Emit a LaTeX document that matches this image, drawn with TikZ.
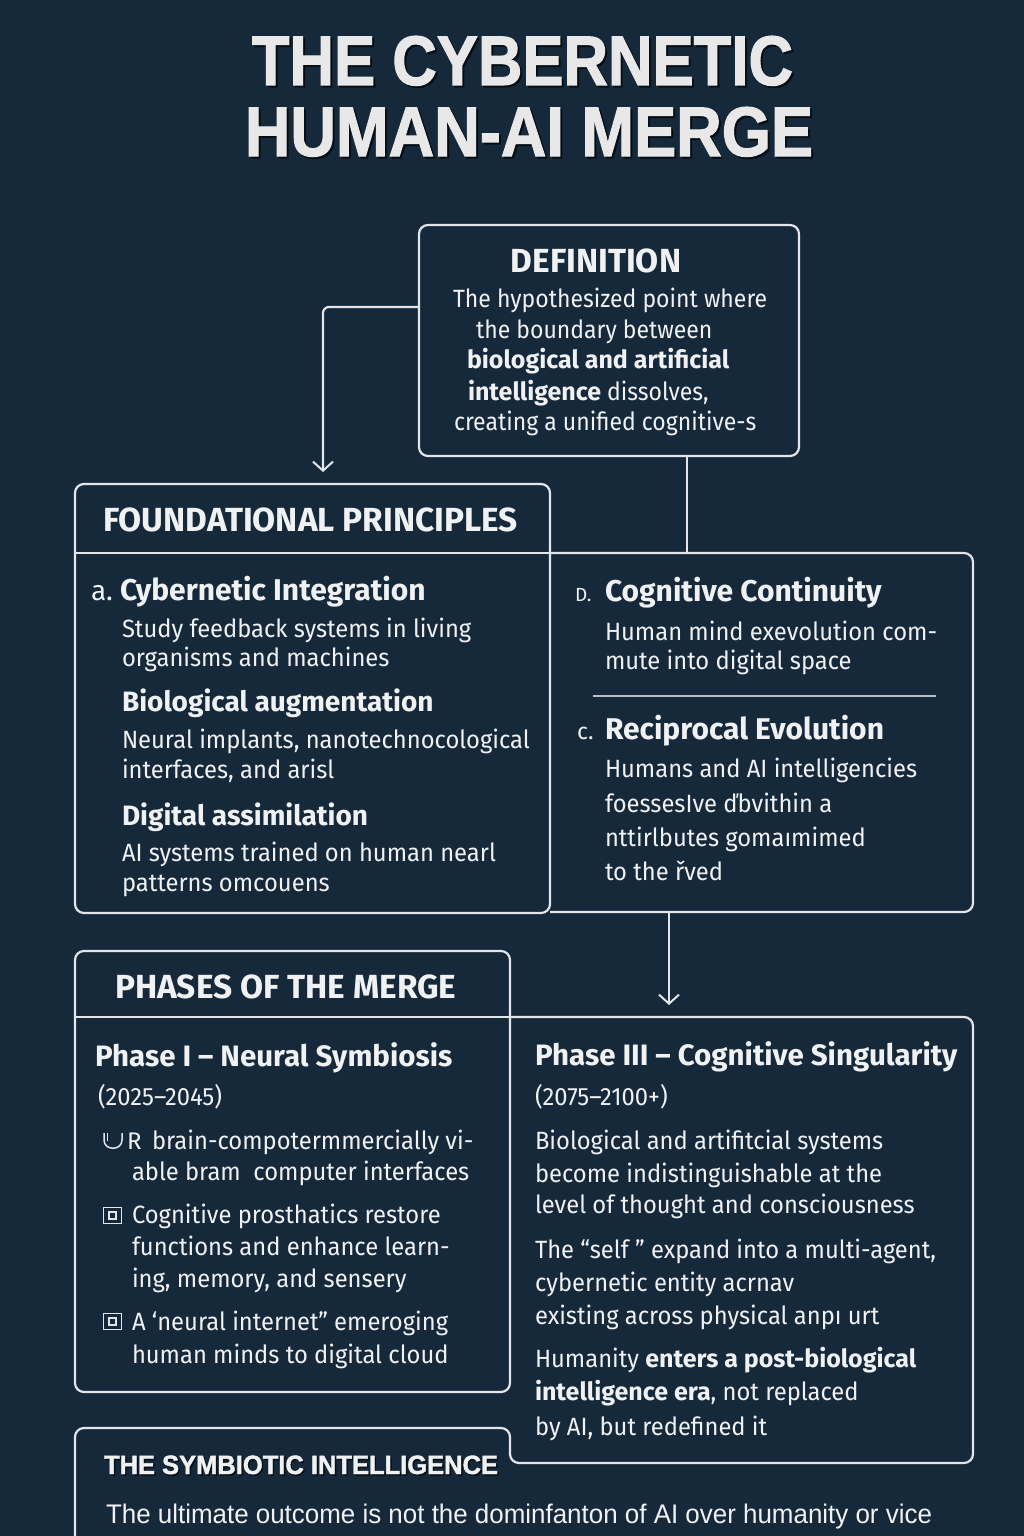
\documentclass[tikz,border=0pt]{standalone}
\usepackage{graphicx}
\usepackage{fontspec}
\setmainfont{Fira Sans}
\newfontfamily\plainfira{Fira Sans}
\newfontfamily\bodyfont[FakeStretch=0.95]{Fira Sans}
\newfontfamily\deffont[FakeStretch=0.92]{Fira Sans}
\newfontfamily\condfont{Liberation Sans}
\newfontfamily\heavyfont[FakeBold=1.6]{Liberation Sans}
\newcommand{\bd}[1]{{\plainfira\bfseries #1}}
\usetikzlibrary{arrows.meta,calc}
\definecolor{bg}{RGB}{22,41,59}
\definecolor{fg}{RGB}{240,241,242}
\definecolor{ln}{RGB}{226,230,234}
\definecolor{ttl}{RGB}{232,232,232}
\begin{document}
\begin{tikzpicture}[x=1pt,y=-1pt,
  boxline/.style={draw=ln, line width=2.2pt, rounded corners=9pt},
  plainline/.style={draw=ln, line width=2.2pt},
  link/.style={draw=ln, line width=2.2pt, rounded corners=6pt},
  arr/.style={-{Straight Barb[length=9pt,width=20pt,line width=2pt]}},
  zone/.style={draw=none, inner sep=0, outer sep=0},
  txt/.style={anchor=base west, inner sep=0, outer sep=0, text=fg, font=\bodyfont\fontsize{25}{30}\selectfont},
  deftxt/.style={txt, font=\deffont\fontsize{25}{30}\selectfont},
  sub/.style={txt, font=\plainfira\fontsize{28}{32}\selectfont\bfseries},
  bigsub/.style={txt, font=\plainfira\fontsize{30}{34}\selectfont\bfseries},
  phs/.style={txt, font=\plainfira\fontsize{29.5}{34}\selectfont\bfseries},
  hdr/.style={txt, font=\plainfira\fontsize{33.4}{38}\selectfont\bfseries},
  ttlnode/.style={anchor=base, inner sep=0, outer sep=0, text=ttl},
  icon/.style={draw=ln, line width=1.5pt, inner sep=0, outer sep=0},
]
\useasboundingbox (0,0) rectangle (1024,1536);
\fill[bg] (0,0) rectangle (1024,1536);
\clip (0,0) rectangle (1024,1536);

% ---------- title ----------
\node[ttlnode, text=black, opacity=0.55] (title1s) at (524.5,87) {\resizebox{541pt}{49pt}{\heavyfont\bfseries THE CYBERNETIC}};
\node[ttlnode] (title1) at (522.5,85) {\resizebox{541pt}{49pt}{\heavyfont\bfseries THE CYBERNETIC}};
\node[ttlnode, text=black, opacity=0.55] (title2s) at (531,158) {\resizebox{568pt}{49pt}{\heavyfont\bfseries HUMAN-AI MERGE}};
\node[ttlnode] (title2) at (529,156) {\resizebox{568pt}{49pt}{\heavyfont\bfseries HUMAN-AI MERGE}};

% ---------- box regions ----------
\node[zone, boxline, minimum width=380pt, minimum height=231pt] (def) at (609,340.5) {};
\node[zone, boxline, minimum width=475pt, minimum height=429pt] (fpl) at (312.5,698.5) {};
\node[zone, minimum width=423pt, minimum height=359pt] (fpr) at (761.5,732.5) {};
\node[zone, boxline, minimum width=435pt, minimum height=441pt] (ph1) at (292.5,1171.5) {};
\node[zone, minimum width=463pt, minimum height=446pt] (ph3) at (741.5,1240) {};
\node[zone, minimum width=898pt, minimum height=108pt] (sym) at (524,1482) {};

\coordinate (s1) at (0,553);
\coordinate (s2) at (0,1017);
\draw[plainline] (fpl.west |- s1) -- (fpl.east |- s1);
\draw[boxline] (fpl.east |- fpr.north) -- (fpr.north east) -- (fpr.south east) -- (fpr.south west);
\draw[plainline] (ph1.west |- s2) -- (ph1.east |- s2);
\draw[boxline] (sym.south west) -- (sym.north west) -- (sym.north west -| ph1.east) -- (ph3.south west) -- (ph3.south east) -- (ph3.north east) -- (ph3.north west);

% ---------- connectors ----------
\coordinate (c1) at (0,307);
\coordinate (a1) at (323,472);
\draw[link,arr] (def.west |- c1) -| (a1);
\coordinate (c2) at (687,0);
\draw[link] (def.south -| c2) -- (fpr.north -| c2);
\coordinate (a3) at (669,1005);
\draw[link,arr] (fpr.south -| a3) -- (a3);

% ---------- definition ----------
\node[anchor=base, inner sep=0, text=fg, font=\plainfira\fontsize{33.4}{38}\selectfont\bfseries] (deft) at (596,272) {DEFINITION};
\node[deftxt] (d1) at (453,307) {The hypothesized point where};
\node[deftxt] (d2) at (476,338) {the boundary between};
\node[txt, font=\plainfira\fontsize{25}{30}\selectfont\bfseries] (d3) at (467,368) {biological and artificial};
\node[deftxt] (d4) at (468,400) {\bd{intelligence} dissolves,};
\node[deftxt] (d5) at (454,430) {creating a unified cognitive-s};

% ---------- foundational principles ----------
\node[hdr] (fph) at (103,531) {FOUNDATIONAL PRINCIPLES};
\node[txt, font=\plainfira\fontsize{28}{32}\selectfont] (fa) at (91,600) {a.};
\node[bigsub] (fa1) at (120,600) {Cybernetic Integration};
\node[txt] (fa2) at (122,637) {Study feedback systems in living};
\node[txt] (fa3) at (122,666) {organisms and machines};
\node[sub] (fb1) at (122,711) {Biological augmentation};
\node[txt] (fb2) at (122,748) {Neural implants, nanotechnocological};
\node[txt] (fb3) at (122,778) {interfaces, and arisl};
\node[sub] (fc1) at (122,825) {Digital assimilation};
\node[txt] (fc2) at (122,861) {AI systems trained on human nearl};
\node[txt] (fc3) at (122,891) {patterns omcouens};

\node[txt, font=\plainfira\fontsize{19}{22}\selectfont] (fd) at (575,601) {D.};
\node[bigsub] (fd1) at (605,601) {Cognitive Continuity};
\node[txt] (fd2) at (605,640) {Human mind exevolution com-};
\node[txt] (fd3) at (605,669) {mute into digital space};
\coordinate (sepL) at (593,696);
\coordinate (sepR) at (936,696);
\draw[draw=ln!80!bg, line width=1.5pt] (sepL) -- (sepR);
\node[txt, font=\plainfira\fontsize{23}{26}\selectfont] (fe) at (577,739) {c.};
\node[bigsub] (fe1) at (605,739) {Reciprocal Evolution};
\node[txt] (fe2) at (605,777) {Humans and AI intelligencies};
\node[txt] (fe3) at (605,812) {foessesIve ďbvithin a};
\node[txt] (fe4) at (605,846) {nttirlbutes gomaımimed};
\node[txt] (fe5) at (605,880) {to the řved};

% ---------- phases ----------
\node[hdr] (phh) at (115,998) {PHASES OF THE MERGE};
\node[phs] (p1) at (95,1066) {Phase I – Neural Symbiosis};
\node[txt] (p1y) at (98,1105) {(2025–2045)};
\draw[icon] (104,1133) -- (104,1140) .. controls (104,1151) and (122,1151) .. (122,1140) -- (122,1133);
\draw[icon, line width=1.1pt] (107.5,1133) -- (107.5,1141);
\node[txt, font=\plainfira\fontsize{24}{26}\selectfont] (ic1r) at (127,1149) {R};
\node[txt] (p1a) at (152,1149) {brain-compotermmercially vi-};
\node[txt] (p1b) at (132,1180) {able bram\ \ computer interfaces};
\node[icon, minimum width=18pt, minimum height=16pt] (ic2) at (112.5,1215.5) {};
\node[icon, line width=1.3pt, minimum size=7pt] (ic2i) at (ic2) {};
\node[txt] (p1c) at (132,1223) {Cognitive prosthatics restore};
\node[txt] (p1d) at (132,1255) {functions and enhance learn-};
\node[txt] (p1e) at (132,1287) {ing, memory, and sensery};
\node[icon, minimum width=18pt, minimum height=16pt] (ic3) at (112.5,1321.5) {};
\node[icon, line width=1.3pt, minimum size=7pt] (ic3i) at (ic3) {};
\node[txt] (p1f) at (132,1330) {A ‘neural internet” emeroging};
\node[txt] (p1g) at (132,1363) {human minds to digital cloud};

\node[phs] (p3) at (535,1065) {Phase III – Cognitive Singularity};
\node[txt] (p3y) at (535,1105) {(2075–2100+)};
\node[txt] (p3a) at (535,1149) {Biological and artifitcial systems};
\node[txt] (p3b) at (535,1182) {become indistinguishable at the};
\node[txt] (p3c) at (535,1213) {level of thought and consciousness};
\node[txt] (p3d) at (535,1258) {The “self ” expand into a multi-agent,};
\node[txt] (p3e) at (535,1291) {cybernetic entity acrnav};
\node[txt] (p3f) at (535,1324) {existing across physical anpı urt};
\node[txt] (p3g) at (535,1367) {Humanity \bd{enters a post-biological}};
\node[txt] (p3h) at (535,1400) {\bd{intelligence era}, not replaced};
\node[txt] (p3i) at (535,1435) {by AI, but redefined it};

% ---------- symbiotic ----------
\node[txt, text=black, opacity=0.55] (symhs) at (105.5,1475.5) {\resizebox{394pt}{18.5pt}{\heavyfont\bfseries THE SYMBIOTIC INTELLIGENCE}};
\node[txt] (symh) at (104,1474) {\resizebox{394pt}{18.5pt}{\heavyfont\bfseries THE SYMBIOTIC INTELLIGENCE}};
\node[txt] (symt) at (106,1523) {\resizebox{826pt}{19.5pt}{\condfont The ultimate outcome is not the dominfanton of AI over humanity or vice}};
\end{tikzpicture}
\end{document}
